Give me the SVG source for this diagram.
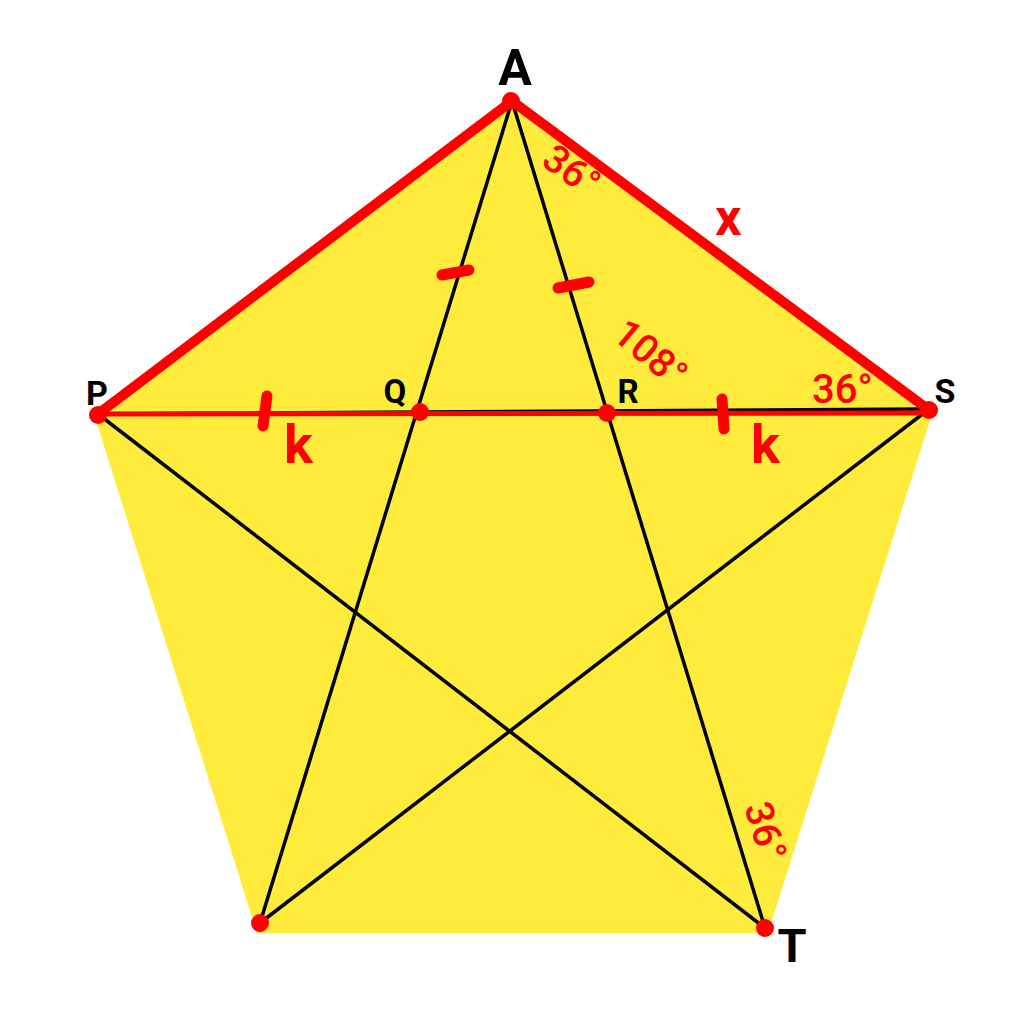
<svg xmlns="http://www.w3.org/2000/svg" width="1024" height="1024" viewBox="0 0 1024 1024">
<style>
.blk{stroke:#000;stroke-width:3.5;fill:none;stroke-linecap:round}
.red{stroke:#ff0000;fill:none;stroke-linecap:round}
.dot{fill:#ff0000}
.lbl{font-family:Roboto,"Liberation Sans",sans-serif;font-weight:700;fill:#000}
.rl{font-family:Roboto,"Liberation Sans",sans-serif;font-weight:500;fill:#ff0000}
.rb{font-family:Roboto,"Liberation Sans",sans-serif;font-weight:700;fill:#ff0000}
</style>
<rect width="1024" height="1024" fill="#fff"/>
<polygon id="pentagon" points="511,96 933,411 768,933 257,933 94,414" fill="#ffeb3b"/>
<g id="connectors">
<line class="blk" x1="512" y1="101" x2="260" y2="923"/>
<line class="blk" x1="512" y1="101" x2="765" y2="928"/>
<line class="blk" x1="98" y1="414" x2="765" y2="928"/>
<line class="blk" x1="929" y1="409" x2="260" y2="923"/>
<line class="blk" x1="98" y1="414" x2="929" y2="409"/>
<line class="red" stroke-width="5" x1="98" y1="414" x2="929" y2="413"/>
<line class="red" stroke-width="10" x1="512" y1="101" x2="98" y2="414"/>
<line class="red" stroke-width="10" x1="512" y1="101" x2="929" y2="410"/>
<line class="red" stroke-width="11" x1="442" y1="275" x2="469" y2="270"/>
<line class="red" stroke-width="11" x1="558" y1="288" x2="589" y2="282"/>
<line class="red" stroke-width="11" x1="267" y1="396" x2="263" y2="426"/>
<line class="red" stroke-width="11" x1="722" y1="399" x2="724" y2="429"/>
</g>
<g id="node-A"><circle class="dot" cx="511" cy="101" r="9"/><text class="lbl" x="515" y="85" font-size="50" text-anchor="middle">A</text></g>
<g id="node-P"><circle class="dot" cx="98" cy="415" r="9"/><text class="lbl" x="97" y="405" font-size="34" text-anchor="middle">P</text></g>
<g id="node-S"><circle class="dot" cx="929" cy="410" r="9"/><text class="lbl" x="945" y="403" font-size="34" text-anchor="middle">S</text></g>
<g id="node-Q"><circle class="dot" cx="420" cy="412" r="9"/><text class="lbl" x="395" y="403" font-size="33" text-anchor="middle">Q</text></g>
<g id="node-R"><circle class="dot" cx="607" cy="413" r="9"/><text class="lbl" x="628" y="403" font-size="33" text-anchor="middle">R</text></g>
<g id="node-B"><circle class="dot" cx="260" cy="923" r="9"/></g>
<g id="node-T"><circle class="dot" cx="765" cy="928" r="9"/><text class="lbl" x="792" y="962" font-size="47" text-anchor="middle">T</text></g>
<g id="labels">
<text class="rl" font-size="39" text-anchor="middle" transform="translate(572,170) rotate(36)" dy="14">36°</text>
<text class="rl" font-size="39" text-anchor="middle" transform="translate(651,353) rotate(40)" dy="14">108°</text>
<text class="rl" x="812" y="403" font-size="40">36°</text>
<text class="rl" font-size="39" text-anchor="middle" transform="translate(766,831) rotate(73)" dy="14">36°</text>
<text class="rb" x="715" y="235" font-size="52">x</text>
<text class="rb" x="284" y="463" font-size="54">k</text>
<text class="rb" x="751" y="463" font-size="54">k</text>
</g>
</svg>
